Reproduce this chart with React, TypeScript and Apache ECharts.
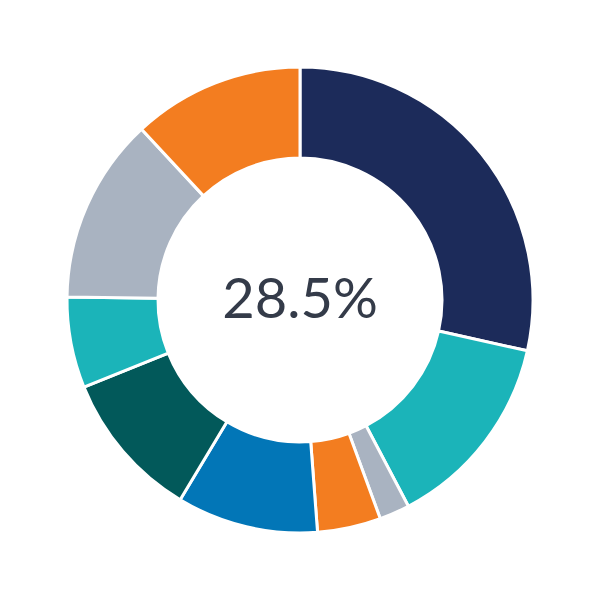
import React, { useEffect, useRef } from 'react';
import * as echarts from 'echarts';

// slices, clockwise from 12 o'clock
const sliceNames = ['A', 'B', 'C', 'D', 'E', 'F', 'G', 'H', 'I'];
const sliceValues = [28.5, 13.8, 2.1, 4.4, 9.8, 10.3, 6.3, 12.9, 11.9];
const sliceColors = [
  '#1c2b5a',
  '#1bb4b9',
  '#a9b3c1',
  '#f37d20',
  '#0276b7',
  '#02595a',
  '#1bb4b9',
  '#a9b3c1',
  '#f37d20',
];
const centerLabel = '28.5%';

const App: React.FC = () => {
  const chartRef = useRef<HTMLDivElement>(null);

  useEffect(() => {
    if (!chartRef.current) return;
    const chart = echarts.init(chartRef.current, undefined, { renderer: 'svg' });

    chart.setOption({
      animation: false,
      graphic: [
        {
          type: 'text',
          x: 300,
          y: 296,
          style: {
            text: centerLabel,
            x: 0,
            y: 0,
            align: 'center',
            verticalAlign: 'middle',
            fontFamily: 'Lato',
            fontSize: 56,
            fontWeight: 400,
            fill: '#343b49',
          },
        },
      ],
      series: [
        {
          type: 'pie',
          center: [300, 300],
          radius: [142, 233],
          startAngle: 90,
          clockwise: true,
          label: { show: false },
          labelLine: { show: false },
          emphasis: { disabled: true },
          itemStyle: {
            borderColor: '#fff',
            borderWidth: 3,
          },
          data: sliceValues.map((v, i) => ({
            name: sliceNames[i],
            value: v,
            itemStyle: { color: sliceColors[i] },
          })),
        },
      ],
    });

    return () => {
      chart.dispose();
    };
  }, []);

  return <div ref={chartRef} style={{ width: 600, height: 600, margin: -8 }} />;
};

export default App;
